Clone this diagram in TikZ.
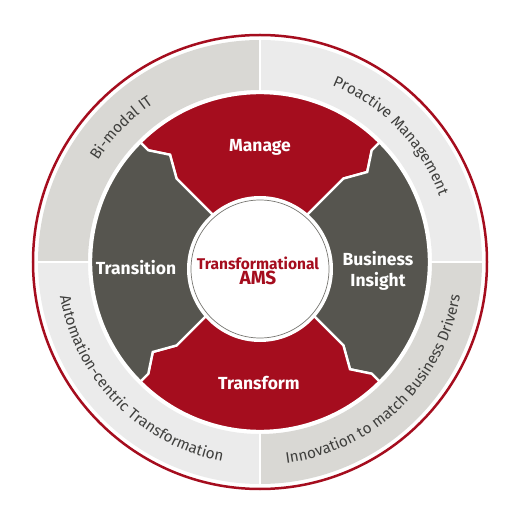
\documentclass[tikz,border=0pt]{standalone}
\usepackage{fontspec}
\setmainfont{Fira Sans}
\usetikzlibrary{
	decorations.text
}
\definecolor{amsred}{HTML}{A50D1E}
\definecolor{amsdark}{HTML}{56554F}
\definecolor{ringdark}{HTML}{D9D8D4}
\definecolor{ringlight}{HTML}{EBEBEB}
\definecolor{ringtext}{HTML}{3F3F3D}
\newcommand\ringfont{\fontsize{15.3}{17}\selectfont\color{ringtext}}

\begin{document}
\begin{tikzpicture}[
	x = 1pt, y = 1pt,
	segment/.style = {fill=#1, draw=white, line width=2.4pt, line join=miter},
	cog/.style = {text=white, font=\fontsize{17.5}{21}\selectfont\bfseries, align=center},
	ringlabel/.style = {
		decorate,
		decoration={text along path, text align=center, text={|\ringfont|#1}}
	}
]
	\useasboundingbox (-260,-257) rectangle (247,262);

	% outer ring
	\foreach \a/\c in {0/ringlight, 90/ringdark, 180/ringlight, 270/ringdark}
		\fill[\c] (\a:172) -- (\a:222) arc[start angle=\a, end angle=\a+90, radius=222pt]
			-- ({\a+90}:172) arc[start angle=\a+90, end angle=\a, radius=172pt] -- cycle;
	\foreach \a in {0,90,180,270}
		\draw[white, line width=2.5pt] (\a:170) -- (\a:224);
	\draw[amsred, line width=2.5pt] (0,0) circle[radius=227pt];

	% the four cogs
	\foreach \a/\c in {90/amsred, 0/amsdark, -90/amsred, 180/amsdark}
		\draw[segment=\c] ({\a+45}:55) -- ({\a+45}:118) -- ({\a+40}:140) -- ({\a+45}:158)
			-- ({\a+45}:169) arc[start angle=\a+45, end angle=\a-45, radius=169pt]
			-- ({\a-45}:158) -- ({\a-50}:140) -- ({\a-45}:118) -- ({\a-45}:55) -- cycle;

	% hub
	\fill[white] (0,-7) circle[radius=73pt];
	\draw[amsdark!80, line width=0.7pt] (0,-7) circle[radius=69pt];

	\node (core) at (-2,-9) [align=center, text=amsred, font=\bfseries]
		{\fontsize{15.5}{23}\selectfont Transformational\\\fontsize{19}{23}\selectfont AMS};
	\node (manage) at (0,115) [cog] {Manage};
	\node (insight) at (118,-9) [cog] {Business\\Insight};
	\node (transform) at (-1,-121) [cog] {Transform};
	\node (transition) at (-124,-6) [cog] {Transition};

	% ring texts
	\path[ringlabel={Bi-modal IT}] (180:191) arc[start angle=180, end angle=92, radius=191pt];
	\path[ringlabel={Proactive Management}] (89:191) arc[start angle=89, end angle=-1, radius=191pt];
	\path[ringlabel={Automation-centric Transformation}] (179:203) arc[start angle=179, end angle=270, radius=203pt];
	\path[ringlabel={Innovation to match Business Drivers}] (268:203) arc[start angle=268, end angle=360, radius=203pt];
\end{tikzpicture}
\end{document}
